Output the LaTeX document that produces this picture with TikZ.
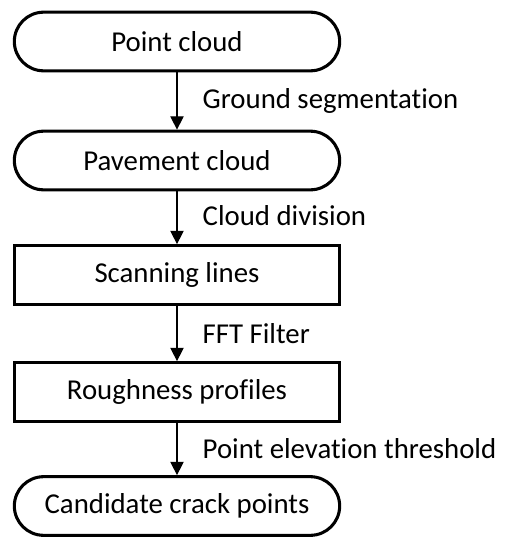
\documentclass[tikz,border=0pt]{standalone}
\usepackage{fontspec}
\setmainfont{Carlito}[Ligatures=NoCommon]
\usetikzlibrary{arrows.meta}

\begin{document}
\begin{tikzpicture}[x=0.75pt,y=-0.75pt,
  stage/.style={draw,line width=2.3pt,minimum width=244pt,minimum height=44pt,font=\fontsize{21.6}{25}\selectfont},
  pill/.style={stage,rounded corners=22pt},
  flow/.style={line width=0.9pt,-{Triangle[length=10pt,width=10pt]}},
  note/.style={anchor=west,font=\fontsize{21.6}{25}\selectfont}]
\useasboundingbox (0,0) rectangle (506,550);

\node[pill]  (cloud)  at (177,41.5) {Point cloud};
\node[pill]  (pave)   at (177,160.5) {Pavement cloud};
\node[stage] (scan)   at (177,275) {Scanning lines};
\node[stage] (rough)  at (177,392) {Roughness profiles};
\node[pill]  (crack)  at (177,506) {Candidate crack points};

\draw[flow] (cloud) -- (pave);
\node[note] (seg) at (198,101) {Ground segmentation};

\draw[flow] (pave) -- (scan);
\node[note] (div) at (198,216) {Cloud division};

\draw[flow] (scan) -- (rough);
\node[note] (fft) at (198,334) {FFT Filter};

\draw[flow] (rough) -- (crack);
\node[note] (thr) at (198,449) {Point elevation threshold};

\end{tikzpicture}
\end{document}
